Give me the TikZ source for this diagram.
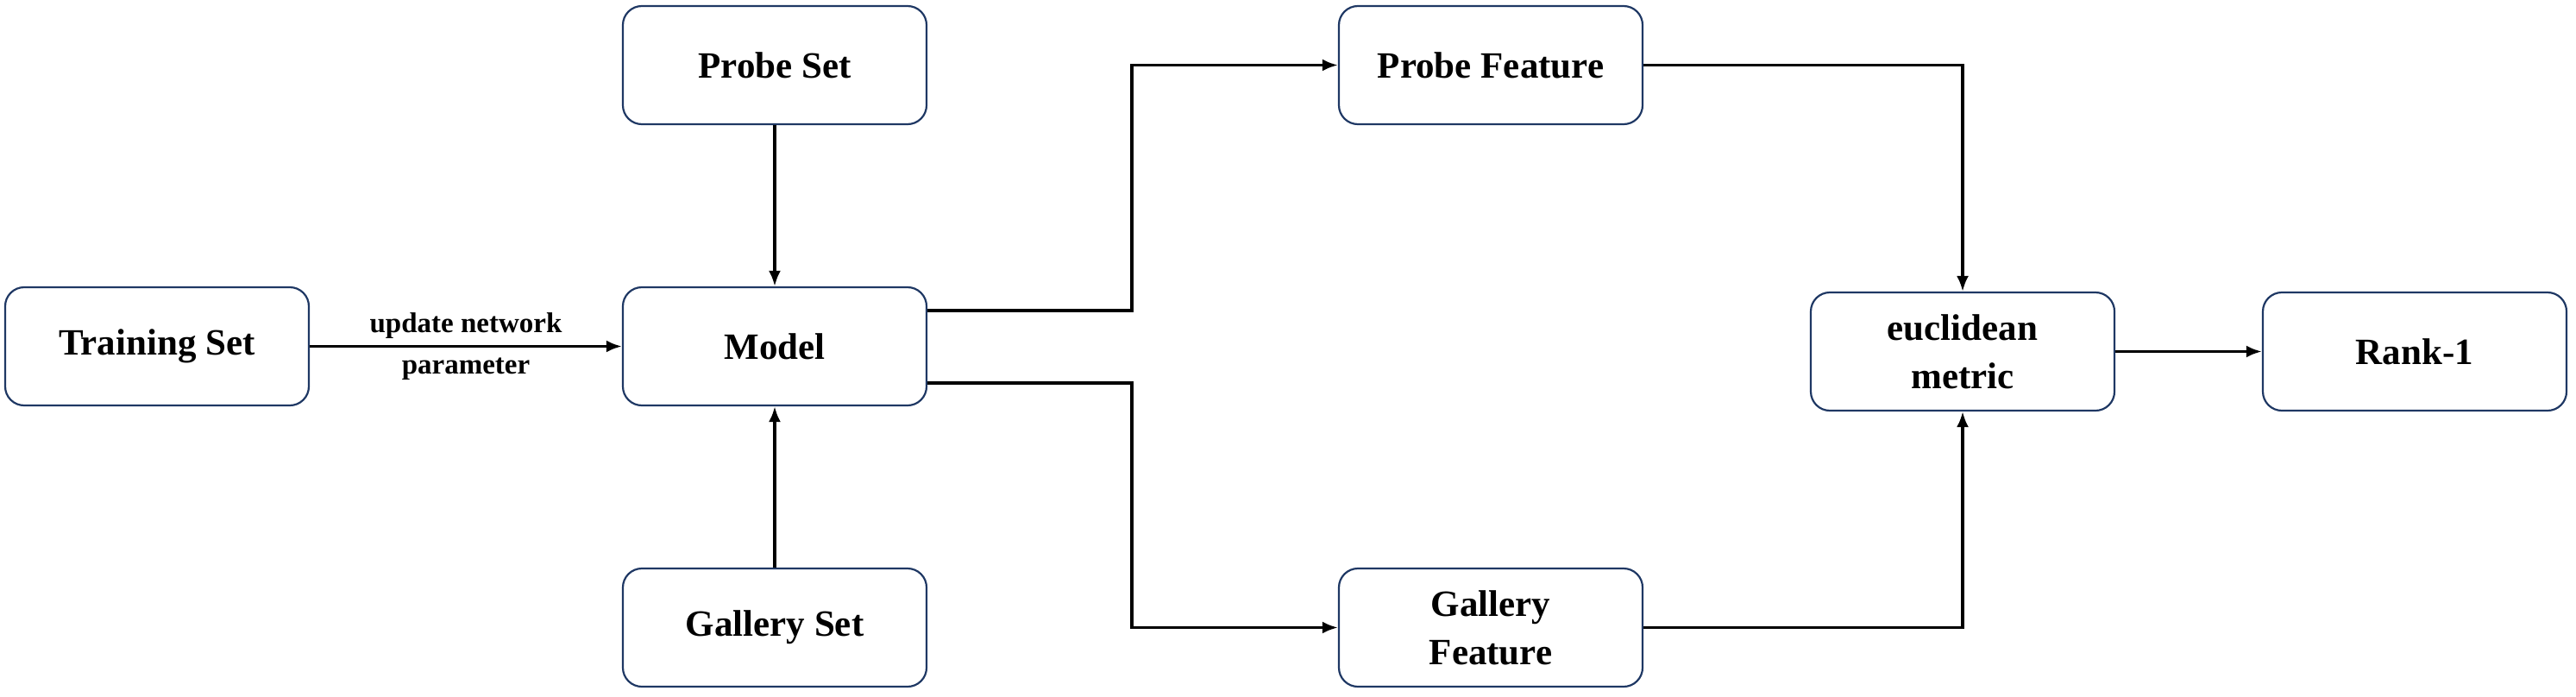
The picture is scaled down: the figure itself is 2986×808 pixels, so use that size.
\documentclass[tikz,border=0pt]{standalone}
\usepackage{fontspec}
\setmainfont{Liberation Serif}
\usetikzlibrary{arrows.meta}
\definecolor{bd}{HTML}{1F3864}
\begin{document}
\begin{tikzpicture}[x=1pt,y=-1pt,
  box/.style={draw=bd,line width=2.2pt,rounded corners=22pt,minimum width=352pt,minimum height=137pt,align=center,font=\fontsize{43}{56}\selectfont\bfseries,inner sep=0pt},
  conn/.style={line width=3.4pt,-{Latex[length=18pt,width=14pt]}}]
\useasboundingbox (0,0) rectangle (2986,808);
\node[box] (train) at (182,401.5) {Training Set};
\node[box] (probe) at (898,75.5) {Probe Set};
\node[box] (model) at (898,401.5) {Model};
\node[box] (gallery) at (898,727.5) {Gallery Set};
\node[box] (pf) at (1728,75.5) {Probe Feature};
\node[box] (gf) at (1728,727.5) {Gallery\\Feature};
\node[box] (eu) at (2275,407.5) {euclidean\\metric};
\node[box] (rank) at (2799,407.5) {Rank-1};
\draw[conn] (train.east) -- node[font=\fontsize{33}{36}\selectfont\bfseries,align=center]{update network\\[12pt]parameter} (model.west);
\draw[conn] (probe) -- (model);
\draw[conn] (gallery) -- (model);
\draw[conn] (model.east |- 0,360) -- (1312,360) |- (pf.west);
\draw[conn] (model.east |- 0,444) -- (1312,444) |- (gf.west);
\draw[conn] (pf.east) -| (eu.north);
\draw[conn] (gf.east) -| (eu.south);
\draw[conn] (eu) -- (rank);
\end{tikzpicture}
\end{document}
